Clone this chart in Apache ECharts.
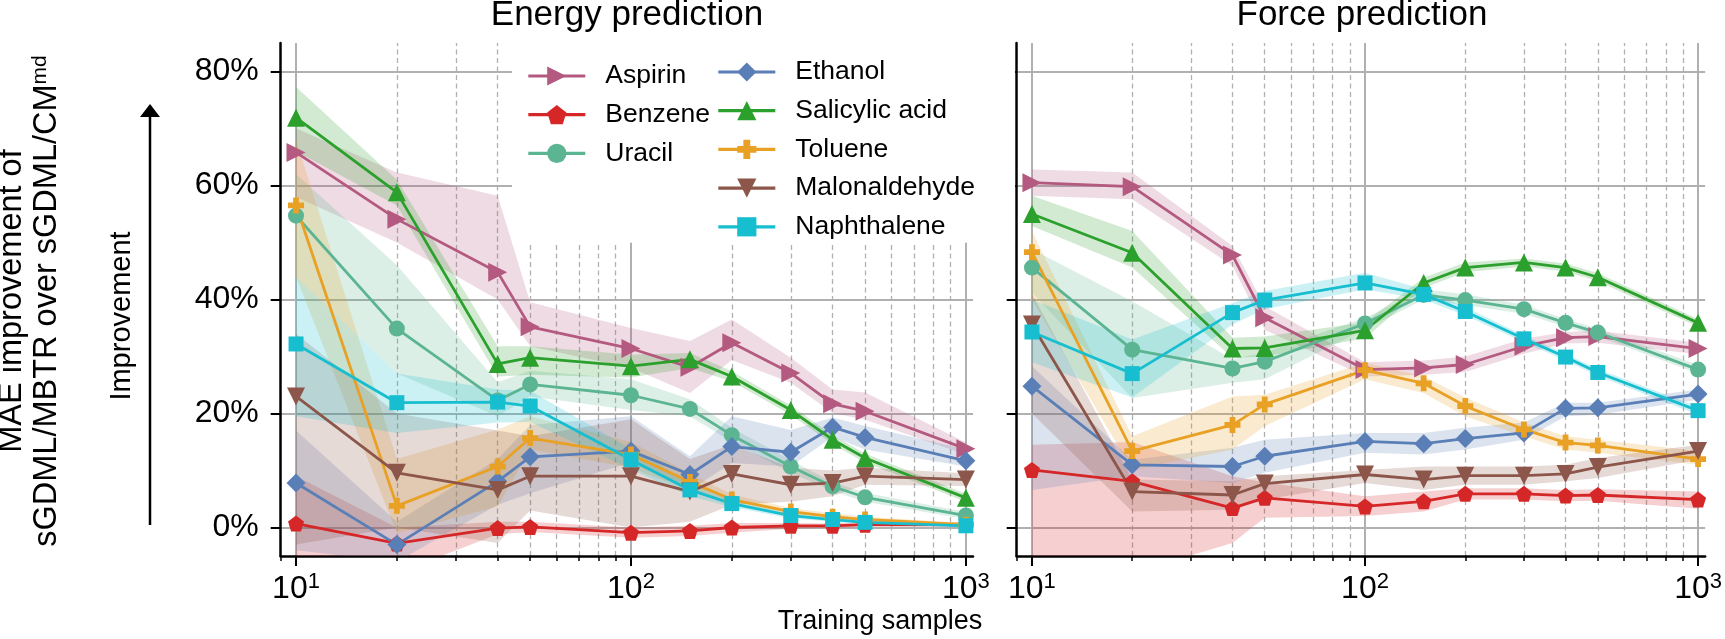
<!DOCTYPE html>
<html>
<head>
<meta charset="utf-8">
<script src="https://cdn.jsdelivr.net/npm/echarts@6/dist/echarts.min.js"></script>
<style>
  html, body { margin: 0; padding: 0; background: #fff; }
  #chart { width: 1725px; height: 639px; }
</style>
</head>
<body>
<div id="chart"></div>
<script>
// training set sizes (x) and axis ticks
const samples = [10, 20, 40, 50, 100, 150, 200, 300, 400, 500, 1000];
const majorX = [10, 100, 1000];
const minorX = [9, 20, 30, 40, 50, 60, 70, 80, 90, 200, 300, 400, 500, 600, 700, 800, 900];
const yTicks = [0, 20, 40, 60, 80];

const molecules = ['Aspirin', 'Benzene', 'Uracil', 'Ethanol', 'Salicylic acid', 'Toluene', 'Malonaldehyde', 'Naphthalene'];

// energy prediction, mean improvement (%) and band
const eAspirin   = [65.8, 54.1, 44.8, 35.2, 31.4, 28.1, 32.4, 27.1, 21.7, 20.4, 13.8];
const eAspirinLo = [58, 50, 40, 31.8, 28, 23.6, 29.4, 25.4, 20.1, 18.9, 12.8];
const eAspirinHi = [70, 62.3, 58.2, 39.5, 35, 32.7, 36.5, 29.8, 24.2, 23.7, 14.9];
const eBenzene   = [0.7, -2.8, -0.1, 0.1, -0.9, -0.6, 0.0, 0.3, 0.3, 0.5, 0.5];
const eBenzeneLo = [-5, -8, -1.2, -0.8, -1.8, -1.5, -0.9, -0.2, -0.1, 0.1, 0.1];
const eBenzeneHi = [9, 0, 1, 1, 0, 0.3, 0.8, 0.8, 0.7, 0.9, 0.9];
const eUracil    = [54.7, 34.9, 22.3, 25.1, 23.2, 20.8, 16.2, 10.7, 7.2, 5.3, 2.1];
const eUracilLo  = [44, 27, 19.5, 23, 20.6, 19.5, 15, 9.6, 6.4, 4.5, 1.5];
const eUracilHi  = [62, 46, 25.5, 27.5, 26, 22.5, 17.5, 11.8, 8, 6.1, 2.7];
const eEthanol   = [7.8, -3.0, 8.1, 12.4, 13.4, 9.3, 14.2, 13.2, 17.6, 15.8, 11.7];
const eEthanolLo = [-4, -6, 4, 6, 11.4, 6.6, 11.3, 10.7, 15.9, 13.7, 10.7];
const eEthanolHi = [17, 1, 12, 18, 19.5, 12.5, 19.5, 17.1, 19.3, 17.8, 13.7];
const eSalicylic   = [71.9, 58.8, 28.7, 29.8, 28.3, 29.5, 26.5, 20.6, 15.4, 12.2, 5.2];
const eSalicylicLo = [66, 56.5, 26.5, 26.8, 26.3, 28, 25.6, 19.8, 14.6, 11.4, 4.5];
const eSalicylicHi = [77.3, 61, 31.8, 31.8, 30.3, 30.6, 27.4, 21.4, 16.2, 13, 5.9];
const eToluene   = [56.5, 3.8, 10.7, 15.7, 12.8, 8.0, 4.9, 2.8, 1.9, 1.4, 0.5];
const eTolueneLo = [44, -1, 3.7, 13.7, 10.5, 6.5, 4.2, 2.2, 1.4, 1.0, 0.3];
const eTolueneHi = [68, 12, 17.2, 19.5, 15, 9.5, 5.8, 3.4, 2.5, 1.9, 0.8];
const eMalon     = [23.0, 9.6, 6.6, 9.0, 9.0, 6.3, 9.4, 7.5, 7.8, 9.0, 8.4];
const eMalonLo   = [-3, 0, -2.7, 3, 0, 1, 4, 4.5, 5.5, 7.5, 7.3];
const eMalonHi   = [34, 20, 17, 16, 19, 12, 14.5, 10.5, 10, 10.5, 9.5];
const eNaph      = [32.2, 21.9, 22.0, 21.3, 11.9, 6.6, 4.2, 2.1, 1.4, 0.9, 0.3];
const eNaphLo    = [19.5, 16.6, 18.4, 18.5, 10.2, 5.5, 3.6, 1.6, 1.0, 0.6, 0.1];
const eNaphHi    = [44, 27, 24.2, 24, 13.8, 8, 5, 2.6, 1.9, 1.3, 0.5];

// force prediction
const fAspirin   = [60.5, 59.8, 47.8, 36.8, 27.7, 28.0, 28.6, 31.8, 33.3, 33.5, 31.4];
const fAspirinLo = [58.2, 57.6, 45.9, 34.7, 26.5, 26.8, 27.3, 30.5, 32.3, 32.4, 30.4];
const fAspirinHi = [62.8, 62.3, 49.4, 38.8, 29, 29.3, 30, 33.1, 34.3, 34.5, 32.4];
const fBenzene   = [10.1, 8.1, 3.4, 5.2, 3.7, 4.6, 5.9, 5.9, 5.6, 5.7, 4.9];
const fBenzeneLo = [-8, -8, -2.7, 1.7, 2, 2.8, 4.9, 4.9, 4.6, 4.7, 3.3];
const fBenzeneHi = [14.5, 15, 9, 7.9, 5.5, 6.3, 6.9, 6.9, 6.6, 6.7, 6.3];
const fUracil    = [45.6, 31.2, 27.9, 29.1, 35.8, 40.8, 39.9, 38.3, 35.9, 34.2, 27.7];
const fUracilLo  = [41.2, 22.7, 25.4, 26, 34.8, 40, 39, 37.5, 35.2, 33.5, 27];
const fUracilHi  = [48.8, 39.7, 29.5, 30.7, 36.8, 41.8, 40.9, 39.1, 36.6, 34.9, 28.5];
const fEthanol   = [24.8, 11.0, 10.7, 12.5, 15.1, 14.7, 15.6, 16.6, 20.9, 21.0, 23.4];
const fEthanolLo = [6.6, 9, 7.8, 9.6, 13.1, 12.8, 13.7, 15.4, 19.5, 19.8, 22.4];
const fEthanolHi = [28.3, 11.9, 14, 15.4, 16.6, 16.6, 17.5, 18.4, 21.9, 21.9, 24.2];
const fSalicylic   = [55.0, 48.2, 31.4, 31.5, 34.6, 42.9, 45.6, 46.5, 45.6, 43.9, 35.9];
const fSalicylicLo = [52.9, 45.6, 29.8, 30, 33.2, 42, 44.8, 45.8, 44.9, 43.2, 35.2];
const fSalicylicHi = [58.2, 52, 33.3, 33.5, 36, 43.8, 46.5, 47.2, 46.3, 44.6, 36.6];
const fToluene   = [48.3, 13.4, 18.0, 21.6, 27.6, 25.3, 21.3, 17.2, 14.9, 14.4, 12.0];
const fTolueneLo = [40, 10.1, 13.7, 17.8, 26, 23.6, 19.5, 16, 13.7, 13.1, 11];
const fTolueneHi = [52, 16, 23, 23.3, 28.9, 26.5, 22.8, 18.4, 16, 15.4, 13.4];
const fMalon     = [35.6, 6.3, 5.7, 7.7, 9.3, 8.4, 9.1, 9.1, 9.4, 10.6, 13.4];
const fMalonLo   = [20, 2.8, 3.1, 4.9, 7.8, 6.6, 7.5, 7.5, 8.1, 8.7, 11.9];
const fMalonHi   = [41, 8.4, 8.1, 9, 10.1, 10.7, 10.7, 10.7, 11, 12.2, 14.5];
const fNaph      = [34.3, 27.0, 37.7, 39.9, 42.9, 40.9, 37.9, 33.1, 29.9, 27.2, 20.5];
const fNaphLo    = [29, 22.8, 35.6, 38.3, 41.8, 40, 37.2, 32.5, 29.3, 26.6, 19.8];
const fNaphHi    = [40, 33, 39.4, 41.5, 44.7, 41.8, 38.7, 33.7, 30.5, 27.8, 21.2];

const colors = ['#b4597f', '#d62728', '#5cb592', '#5a7fb7', '#2ca02c', '#e8a125', '#8c564b', '#17becf'];
const pentagon = 'path://M0,-1 L0.951,-0.309 L0.588,0.809 L-0.588,0.809 L-0.951,-0.309 Z';
const plusFilled = 'path://M-1,-0.36 L-0.36,-0.36 L-0.36,-1 L0.36,-1 L0.36,-0.36 L1,-0.36 L1,0.36 L0.36,0.36 L0.36,1 L-0.36,1 L-0.36,0.36 L-1,0.36 Z';
const symbols = ['triangle', pentagon, 'circle', 'diamond', 'triangle', plusFilled, 'triangle', 'rect'];
const rotates = [-90, 0, 0, 0, 0, 0, 180, 0];
const sizes = [19, 16, 16, 19, 18, 16, 18, 15];

const energySets = [
  [eAspirin, eAspirinLo, eAspirinHi], [eBenzene, eBenzeneLo, eBenzeneHi],
  [eUracil, eUracilLo, eUracilHi], [eEthanol, eEthanolLo, eEthanolHi],
  [eSalicylic, eSalicylicLo, eSalicylicHi], [eToluene, eTolueneLo, eTolueneHi],
  [eMalon, eMalonLo, eMalonHi], [eNaph, eNaphLo, eNaphHi]
];
const forceSets = [
  [fAspirin, fAspirinLo, fAspirinHi], [fBenzene, fBenzeneLo, fBenzeneHi],
  [fUracil, fUracilLo, fUracilHi], [fEthanol, fEthanolLo, fEthanolHi],
  [fSalicylic, fSalicylicLo, fSalicylicHi], [fToluene, fTolueneLo, fTolueneHi],
  [fMalon, fMalonLo, fMalonHi], [fNaph, fNaphLo, fNaphHi]
];

const FONT = "'Liberation Sans', Arial, sans-serif";
const GRID_GREY = '#b0b0b0';

// shaded band: one polygon through all (x, hi) then back through (x, lo)
function bandRenderer(color) {
  return function (params, api) {
    if (params.dataIndexInside !== 0) return null;
    const n = params.dataInsideLength;
    const upper = [], lower = [];
    for (let i = 0; i < n; i++) {
      upper.push(api.coord([api.value(0, i), api.value(2, i)]));
      lower.push(api.coord([api.value(0, i), api.value(1, i)]));
    }
    return {
      type: 'polygon',
      shape: { points: upper.concat(lower.reverse()) },
      style: { fill: color, opacity: 0.22 },
      silent: true
    };
  };
}

function makeSeries(sets, tag, xi, yi) {
  const bands = [];
  const lines = [];
  sets.forEach(function (set, k) {
    const mean = set[0], lo = set[1], hi = set[2];
    bands.push({
      type: 'custom', name: tag + ' band ' + k, xAxisIndex: xi, yAxisIndex: yi,
      data: samples.map(function (s, i) { return [s, lo[i], hi[i]]; }),
      encode: { x: 0, y: [1, 2] },
      renderItem: bandRenderer(colors[k]),
      clip: true, silent: true
    });
    lines.push({
      type: 'line', name: molecules[k], xAxisIndex: xi, yAxisIndex: yi,
      data: samples.map(function (s, i) { return [s, mean[i]]; }),
      symbol: symbols[k], symbolSize: sizes[k], symbolRotate: rotates[k],
      color: colors[k],
      itemStyle: { color: colors[k] },
      lineStyle: { color: colors[k], width: 2.8 },
      emphasis: { disabled: true }
    });
  });
  return bands.concat(lines);
}

// grid lines of each panel, drawn through the axes as marker lines
function gridLines(xi, yi) {
  const data = [];
  yTicks.forEach(function (v) { data.push({ yAxis: v, lineStyle: { color: GRID_GREY, width: 2, type: 'solid' } }); });
  majorX.forEach(function (v) { data.push({ xAxis: v, lineStyle: { color: GRID_GREY, width: 2, type: 'solid' } }); });
  minorX.filter(function (v) { return v > 10; }).forEach(function (v) {
    data.push({ xAxis: v, lineStyle: { color: GRID_GREY, width: 1.3, type: [5, 3.5] } });
  });
  return {
    type: 'line', name: 'grid' + xi, xAxisIndex: xi, yAxisIndex: yi, data: [], silent: true,
    z: 0,
    markLine: {
      z: 0, silent: true, symbol: ['none', 'none'], label: { show: false },
      emphasis: { disabled: true }, animation: false,
      data: data
    }
  };
}

function powLabel(v) {
  const e = v > 5 ? Math.round(Math.log10(v)) : Math.round(v);
  return '{b|10}{s|' + e + '}';
}

function xAxes(gridIndex) {
  return [{
    gridIndex: gridIndex, type: 'log', logBase: 10, min: 9, max: 1050, position: 'bottom',
    axisLine: { onZero: false, lineStyle: { color: '#000', width: 2.5 } },
    axisTick: { customValues: majorX, length: 10, lineStyle: { color: '#000', width: 2 } },
    axisLabel: {
      customValues: majorX, margin: 15, formatter: powLabel, color: '#000',
      rich: {
        b: { fontSize: 32, lineHeight: 36, fontFamily: FONT, color: '#000' },
        s: { fontSize: 22, lineHeight: 24, verticalAlign: 'top', fontFamily: FONT, color: '#000' }
      }
    },
    splitLine: { show: false }
  }, {
    gridIndex: gridIndex, type: 'log', logBase: 10, min: 9, max: 1050, position: 'bottom',
    axisLine: { show: false, onZero: false },
    axisTick: { customValues: minorX, length: 5, lineStyle: { color: '#000', width: 1.5 } },
    axisLabel: { show: false },
    splitLine: { show: false }
  }];
}

function yAxis(gridIndex, showLabels) {
  return {
    gridIndex: gridIndex, type: 'value', min: -5, max: 85,
    axisLine: { show: true, onZero: false, lineStyle: { color: '#000', width: 2.5 } },
    axisTick: { show: true, customValues: yTicks, length: 10, lineStyle: { color: '#000', width: 2 } },
    axisLabel: {
      show: showLabels, customValues: yTicks, formatter: '{value}%', margin: 22,
      fontSize: 32, color: '#000', fontFamily: FONT
    },
    splitLine: { show: false }
  };
}

const legendText = { fontSize: 26.5, lineHeight: 28, color: '#000', fontFamily: FONT, padding: [0, 0, 0, 15] };

const chart = echarts.init(document.getElementById('chart'), null, { renderer: 'canvas' });

const option = {
  animation: false,
  backgroundColor: '#fff',
  textStyle: { fontFamily: FONT },
  title: [
    { text: 'Energy prediction', left: 627, top: -2, textAlign: 'center', padding: 0,
      textStyle: { fontSize: 35, fontWeight: 'normal', color: '#000', fontFamily: FONT } },
    { text: 'Force prediction', left: 1362, top: -2, textAlign: 'center', padding: 0,
      textStyle: { fontSize: 35, fontWeight: 'normal', color: '#000', fontFamily: FONT } }
  ],
  grid: [
    { left: 280.7, top: 43, width: 692.3, height: 513 },
    { left: 1016.7, top: 43, width: 691.3, height: 513 }
  ],
  xAxis: xAxes(0).concat(xAxes(1)),
  yAxis: [yAxis(0, true), yAxis(1, false)],
  legend: [{
    data: molecules.slice(0, 3), orient: 'vertical', left: 521.7, top: 57,
    itemWidth: 57, itemHeight: 24, itemGap: 10.7, selectedMode: false, z: 6,
    lineStyle: { width: 3.2 },
    textStyle: legendText
  }, {
    data: molecules.slice(3), orient: 'vertical', left: 512, top: 38,
    padding: [20, 40, 2, 204.7], backgroundColor: '#fff',
    itemWidth: 57, itemHeight: 24, itemGap: 10.7, selectedMode: false, z: 5,
    lineStyle: { width: 3.2 },
    textStyle: legendText
  }],
  graphic: [
    {
      type: 'text', x: 30, y: 301, rotation: Math.PI / 2, silent: true,
      style: {
        text: '{n|MAE improvement of}\n{n|sGDML/MBTR over sGDML/CM}{sup|md}',
        align: 'center', verticalAlign: 'middle', fill: '#000',
        rich: {
          n: { fontSize: 32.5, lineHeight: 35, fontFamily: FONT, fill: '#000' },
          sup: { fontSize: 21, lineHeight: 23, verticalAlign: 'top', fontFamily: FONT, fill: '#000' }
        }
      }
    },
    {
      type: 'text', x: 122, y: 316, rotation: Math.PI / 2, silent: true,
      style: { text: 'Improvement', align: 'center', verticalAlign: 'middle',
        font: '29px ' + FONT, fill: '#000' }
    },
    {
      type: 'line', silent: true,
      shape: { x1: 150, y1: 525, x2: 150, y2: 112 },
      style: { stroke: '#000', lineWidth: 2.5 }
    },
    {
      type: 'polygon', silent: true,
      shape: { points: [[140, 117], [160, 117], [150, 104]] },
      style: { fill: '#000' }
    },
    {
      type: 'text', x: 880, y: 622, silent: true,
      style: { text: 'Training samples', align: 'center', verticalAlign: 'middle',
        font: '27px ' + FONT, fill: '#000' }
    }
  ],
  series: [gridLines(0, 0), gridLines(2, 1)]
    .concat(makeSeries(energySets, 'E', 0, 0))
    .concat(makeSeries(forceSets, 'F', 2, 1))
};

chart.setOption(option);
</script>
</body>
</html>
